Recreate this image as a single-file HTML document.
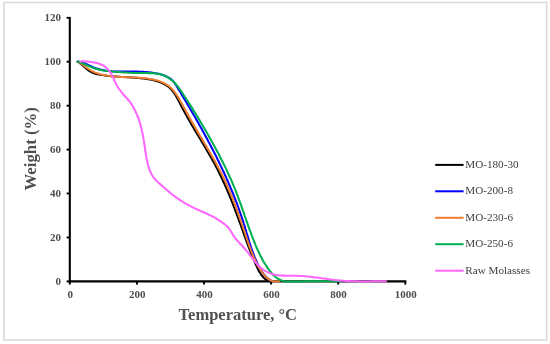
<!DOCTYPE html>
<html><head><meta charset="utf-8"><title>TGA</title>
<style>
html,body{margin:0;padding:0;background:#fff;}
body{width:550px;height:344px;overflow:hidden;}
svg{display:block;}
text{font-family:"Liberation Serif","Times New Roman",serif;}
</style></head><body>
<svg width="550" height="344" viewBox="0 0 550 344">
<rect x="0" y="0" width="550" height="344" fill="#fff"/>
<rect x="3.9" y="2.5" width="542.8" height="337.6" fill="none" stroke="#dcdcdc" stroke-width="1.7"/>
<g stroke="#000" stroke-width="2.1" fill="none">
<line x1="69.8" y1="16.900000000000002" x2="69.8" y2="282.4"/>
<line x1="68.8" y1="281.4" x2="406.3" y2="281.4"/>
</g>
<g stroke="#000" stroke-width="1.9"><line x1="69.8" y1="281.4" x2="69.8" y2="284.6"/><line x1="136.9" y1="281.4" x2="136.9" y2="284.6"/><line x1="204.0" y1="281.4" x2="204.0" y2="284.6"/><line x1="271.1" y1="281.4" x2="271.1" y2="284.6"/><line x1="338.2" y1="281.4" x2="338.2" y2="284.6"/><line x1="405.3" y1="281.4" x2="405.3" y2="284.6"/><line x1="66.6" y1="281.4" x2="69.8" y2="281.4"/><line x1="66.6" y1="237.5" x2="69.8" y2="237.5"/><line x1="66.6" y1="193.5" x2="69.8" y2="193.5"/><line x1="66.6" y1="149.6" x2="69.8" y2="149.6"/><line x1="66.6" y1="105.7" x2="69.8" y2="105.7"/><line x1="66.6" y1="61.7" x2="69.8" y2="61.7"/><line x1="66.6" y1="17.8" x2="69.8" y2="17.8"/></g>
<g fill="none" stroke-width="2.05" stroke-linejoin="round" stroke-linecap="round">
<path d="M77.6 61.6L78.8 62.4L80.0 63.3L81.2 64.3L82.3 65.3L83.5 66.3L84.6 67.3L85.8 68.2L86.9 69.2L88.1 70.1L89.3 71.0L90.6 71.7L91.9 72.4L93.3 73.0L94.7 73.5L96.1 73.9L97.6 74.3L99.1 74.6L100.6 74.9L102.1 75.1L103.6 75.3L105.1 75.5L106.6 75.7L108.1 75.9L109.6 76.0L111.1 76.2L112.5 76.3L114.0 76.4L115.5 76.5L116.9 76.6L118.4 76.7L119.9 76.8L121.3 76.9L122.8 77.0L124.3 77.0L125.8 77.1L127.2 77.2L128.7 77.3L130.2 77.4L131.7 77.5L133.1 77.6L134.6 77.7L136.1 77.8L137.6 77.9L139.1 78.1L140.7 78.2L142.2 78.4L143.7 78.6L145.3 78.8L146.8 79.0L148.3 79.3L149.9 79.5L151.4 79.8L152.9 80.1L154.4 80.5L155.9 80.9L157.4 81.3L158.8 81.8L160.2 82.3L161.6 82.9L162.9 83.5L164.2 84.1L165.5 84.9L166.7 85.6L167.9 86.4L169.0 87.3L170.1 88.3L171.1 89.3L172.0 90.4L172.9 91.5L173.8 92.6L174.7 93.8L175.5 95.1L176.2 96.4L177.0 97.7L177.7 99.0L178.4 100.4L179.1 101.7L179.8 103.1L180.5 104.4L181.2 105.8L181.9 107.2L182.6 108.5L183.4 109.9L184.1 111.2L184.8 112.6L185.5 113.9L186.3 115.2L187.0 116.6L187.7 117.9L188.5 119.2L189.2 120.5L190.0 121.8L190.7 123.1L191.5 124.4L192.2 125.7L193.0 127.0L193.8 128.3L194.5 129.6L195.3 130.9L196.1 132.2L196.8 133.4L197.6 134.7L198.4 136.0L199.1 137.3L199.9 138.6L200.7 139.8L201.4 141.1L202.2 142.4L203.0 143.7L203.7 144.9L204.5 146.2L205.2 147.5L206.0 148.8L206.7 150.1L207.5 151.4L208.2 152.6L209.0 153.9L209.7 155.2L210.5 156.5L211.2 157.8L211.9 159.1L212.6 160.4L213.4 161.7L214.1 163.0L214.8 164.3L215.5 165.7L216.2 167.0L216.9 168.3L217.6 169.6L218.2 171.0L218.9 172.3L219.6 173.7L220.2 175.0L220.9 176.4L221.5 177.7L222.2 179.1L222.8 180.4L223.4 181.8L224.1 183.2L224.7 184.6L225.3 185.9L225.9 187.3L226.5 188.7L227.1 190.1L227.7 191.5L228.3 192.8L228.9 194.2L229.5 195.6L230.0 197.0L230.6 198.4L231.2 199.8L231.7 201.2L232.3 202.6L232.8 204.0L233.4 205.4L233.9 206.8L234.5 208.2L235.0 209.6L235.5 211.0L236.1 212.4L236.6 213.8L237.1 215.2L237.6 216.6L238.1 218.0L238.6 219.4L239.1 220.8L239.6 222.2L240.2 223.6L240.7 225.0L241.2 226.4L241.7 227.8L242.2 229.2L242.7 230.7L243.2 232.1L243.7 233.5L244.2 234.9L244.7 236.3L245.2 237.7L245.7 239.1L246.2 240.5L246.7 241.9L247.2 243.3L247.8 244.7L248.3 246.1L248.8 247.5L249.4 248.9L249.9 250.3L250.5 251.7L251.0 253.1L251.6 254.5L252.2 255.9L252.7 257.3L253.3 258.7L253.9 260.1L254.5 261.5L255.1 262.9L255.7 264.3L256.4 265.7L257.0 267.1L257.7 268.5L258.3 269.8L259.0 271.2L259.8 272.5L260.6 273.8L261.4 275.0L262.3 276.1L263.2 277.2L264.3 278.2L265.4 279.1L266.6 279.8L267.9 280.5L269.3 281.0L270.5 281.3" stroke="#000000"/>
<path d="M77.6 61.6L79.1 61.8L80.6 62.0L82.0 62.4L83.4 62.9L84.8 63.4L86.2 64.0L87.6 64.6L88.9 65.3L90.3 65.9L91.6 66.5L93.0 67.1L94.4 67.7L95.8 68.2L97.2 68.6L98.6 69.1L100.0 69.5L101.4 69.8L102.9 70.1L104.3 70.4L105.8 70.7L107.3 70.9L108.7 71.0L110.2 71.2L111.7 71.3L113.2 71.4L114.7 71.5L116.2 71.6L117.7 71.6L119.2 71.6L120.8 71.6L122.3 71.6L123.8 71.6L125.3 71.6L126.8 71.6L128.3 71.6L129.8 71.6L131.4 71.6L132.9 71.6L134.4 71.6L135.9 71.6L137.4 71.6L138.9 71.7L140.4 71.7L141.9 71.8L143.4 71.8L144.9 71.9L146.4 72.0L147.9 72.2L149.4 72.3L150.9 72.5L152.4 72.7L153.8 72.9L155.3 73.2L156.8 73.4L158.3 73.7L159.8 74.1L161.3 74.5L162.7 74.9L164.1 75.4L165.5 76.0L166.8 76.6L168.1 77.3L169.3 78.0L170.5 78.8L171.6 79.8L172.7 80.8L173.7 81.9L174.6 83.0L175.4 84.2L176.3 85.5L177.1 86.8L177.8 88.1L178.6 89.4L179.4 90.7L180.2 92.0L181.0 93.3L181.7 94.6L182.5 95.9L183.3 97.2L184.1 98.5L184.8 99.7L185.6 101.0L186.4 102.3L187.1 103.6L187.9 104.9L188.6 106.2L189.4 107.5L190.1 108.8L190.9 110.1L191.7 111.4L192.4 112.7L193.2 113.9L193.9 115.2L194.7 116.5L195.4 117.8L196.1 119.1L196.9 120.4L197.6 121.8L198.4 123.1L199.1 124.4L199.8 125.7L200.6 127.0L201.3 128.3L202.0 129.6L202.7 130.9L203.5 132.2L204.2 133.5L204.9 134.9L205.6 136.2L206.3 137.5L207.0 138.8L207.7 140.1L208.4 141.5L209.1 142.8L209.8 144.1L210.5 145.4L211.2 146.8L211.9 148.1L212.6 149.4L213.3 150.8L214.0 152.1L214.7 153.5L215.3 154.8L216.0 156.1L216.7 157.5L217.3 158.8L218.0 160.2L218.7 161.5L219.3 162.9L220.0 164.2L220.6 165.6L221.2 166.9L221.9 168.3L222.5 169.6L223.2 171.0L223.8 172.3L224.4 173.7L225.0 175.1L225.7 176.4L226.3 177.8L226.9 179.2L227.5 180.5L228.1 181.9L228.7 183.3L229.3 184.7L229.9 186.0L230.4 187.4L231.0 188.8L231.6 190.2L232.2 191.6L232.7 193.0L233.3 194.4L233.8 195.7L234.4 197.1L234.9 198.5L235.5 199.9L236.0 201.3L236.6 202.7L237.1 204.1L237.6 205.5L238.1 206.9L238.6 208.4L239.1 209.8L239.6 211.2L240.1 212.6L240.6 214.0L241.1 215.4L241.6 216.8L242.1 218.3L242.5 219.7L243.0 221.1L243.5 222.5L243.9 224.0L244.4 225.4L244.8 226.8L245.2 228.3L245.7 229.7L246.1 231.2L246.5 232.6L247.0 234.0L247.4 235.5L247.8 236.9L248.2 238.4L248.7 239.8L249.1 241.2L249.6 242.7L250.0 244.1L250.5 245.5L250.9 247.0L251.4 248.4L251.9 249.8L252.4 251.2L252.9 252.6L253.4 254.0L254.0 255.4L254.5 256.8L255.1 258.2L255.7 259.6L256.3 261.0L256.9 262.4L257.5 263.7L258.2 265.1L258.9 266.4L259.6 267.8L260.3 269.1L261.1 270.4L261.9 271.7L262.8 272.9L263.6 274.1L264.6 275.2L265.6 276.3L266.6 277.3L267.7 278.3L268.9 279.2L270.1 280.0L271.5 280.8L272.5 281.3" stroke="#0000ff"/>
<path d="M77.6 61.6L78.9 62.3L80.1 63.1L81.4 63.9L82.6 64.8L83.8 65.7L85.0 66.6L86.2 67.5L87.4 68.3L88.7 69.2L89.9 69.9L91.2 70.7L92.5 71.4L93.9 72.0L95.2 72.6L96.6 73.1L98.0 73.5L99.4 74.0L100.9 74.4L102.3 74.7L103.8 75.0L105.2 75.3L106.7 75.6L108.1 75.8L109.6 76.0L111.1 76.2L112.5 76.4L114.0 76.5L115.5 76.6L117.0 76.7L118.5 76.8L120.0 76.9L121.5 77.0L123.0 77.1L124.5 77.1L126.0 77.2L127.5 77.2L129.0 77.3L130.5 77.3L132.0 77.4L133.6 77.5L135.1 77.5L136.6 77.6L138.1 77.7L139.6 77.8L141.2 77.9L142.7 78.0L144.2 78.2L145.7 78.3L147.2 78.5L148.7 78.7L150.2 79.0L151.7 79.2L153.2 79.5L154.7 79.9L156.1 80.2L157.5 80.6L159.0 81.1L160.4 81.6L161.7 82.1L163.1 82.7L164.4 83.4L165.7 84.1L166.9 84.9L168.2 85.7L169.3 86.5L170.4 87.5L171.5 88.5L172.5 89.5L173.5 90.7L174.4 91.8L175.3 93.0L176.2 94.3L177.0 95.5L177.8 96.8L178.6 98.1L179.4 99.4L180.1 100.8L180.9 102.1L181.6 103.4L182.4 104.7L183.1 106.1L183.8 107.4L184.6 108.7L185.3 110.0L186.0 111.3L186.7 112.6L187.4 113.9L188.2 115.2L188.9 116.5L189.6 117.8L190.3 119.1L191.1 120.4L191.8 121.7L192.6 123.0L193.3 124.3L194.1 125.6L194.8 126.9L195.6 128.2L196.3 129.5L197.1 130.8L197.8 132.1L198.6 133.4L199.4 134.7L200.1 136.0L200.9 137.3L201.7 138.5L202.4 139.8L203.2 141.1L204.0 142.4L204.7 143.7L205.5 145.0L206.3 146.3L207.0 147.6L207.8 148.9L208.6 150.2L209.3 151.5L210.1 152.8L210.8 154.1L211.6 155.4L212.3 156.7L213.1 158.0L213.8 159.3L214.5 160.6L215.3 161.9L216.0 163.2L216.7 164.5L217.4 165.9L218.1 167.2L218.8 168.5L219.5 169.8L220.2 171.2L220.9 172.5L221.6 173.8L222.3 175.2L222.9 176.5L223.6 177.9L224.2 179.2L224.9 180.6L225.5 181.9L226.1 183.3L226.7 184.6L227.3 186.0L227.9 187.4L228.5 188.7L229.1 190.1L229.7 191.5L230.3 192.9L230.9 194.3L231.4 195.6L232.0 197.0L232.5 198.4L233.1 199.8L233.6 201.2L234.2 202.6L234.7 204.0L235.2 205.4L235.8 206.8L236.3 208.2L236.8 209.6L237.3 211.0L237.8 212.5L238.3 213.9L238.8 215.3L239.3 216.7L239.8 218.1L240.3 219.5L240.8 220.9L241.3 222.4L241.8 223.8L242.3 225.2L242.8 226.6L243.2 228.1L243.7 229.5L244.2 230.9L244.7 232.3L245.2 233.7L245.6 235.2L246.1 236.6L246.6 238.0L247.1 239.5L247.6 240.9L248.1 242.3L248.5 243.7L249.0 245.1L249.5 246.5L250.1 248.0L250.6 249.4L251.1 250.8L251.7 252.2L252.2 253.6L252.8 254.9L253.4 256.3L254.0 257.7L254.6 259.0L255.2 260.4L255.9 261.7L256.6 263.1L257.3 264.4L258.0 265.7L258.7 267.0L259.5 268.3L260.3 269.6L261.1 270.8L262.0 272.1L262.9 273.3L263.8 274.5L264.8 275.7L265.8 276.7L266.8 277.8L267.9 278.7L269.1 279.5L270.3 280.2L271.6 280.8L273.0 281.2L274.4 281.4L276.0 281.4L277.6 281.4L279.3 281.3L279.4 281.3" stroke="#ed7d31"/>
<path d="M77.6 61.6L79.0 62.1L80.4 62.6L81.8 63.1L83.2 63.7L84.6 64.3L86.0 64.9L87.3 65.5L88.7 66.0L90.1 66.6L91.4 67.2L92.8 67.7L94.2 68.2L95.6 68.7L97.1 69.1L98.5 69.5L100.0 69.8L101.5 70.1L102.9 70.4L104.4 70.6L105.9 70.8L107.4 71.0L108.9 71.1L110.4 71.3L111.9 71.5L113.4 71.6L114.9 71.7L116.3 71.9L117.8 72.0L119.3 72.1L120.8 72.2L122.3 72.3L123.8 72.4L125.3 72.5L126.7 72.6L128.2 72.7L129.7 72.7L131.2 72.8L132.7 72.9L134.2 72.9L135.7 72.9L137.2 73.0L138.8 73.0L140.3 73.0L141.8 73.0L143.3 73.0L144.9 73.0L146.4 73.0L148.0 73.1L149.5 73.1L151.0 73.1L152.6 73.2L154.1 73.3L155.6 73.5L157.0 73.7L158.5 73.9L159.9 74.2L161.4 74.6L162.7 75.0L164.1 75.6L165.4 76.2L166.7 76.8L168.0 77.5L169.2 78.3L170.4 79.2L171.6 80.1L172.7 81.0L173.8 82.0L174.9 83.1L175.9 84.2L176.8 85.3L177.8 86.5L178.7 87.7L179.5 88.9L180.4 90.2L181.3 91.4L182.1 92.7L183.0 93.9L183.8 95.2L184.6 96.5L185.5 97.7L186.3 99.0L187.1 100.2L187.9 101.5L188.7 102.8L189.6 104.0L190.4 105.3L191.2 106.6L192.0 107.8L192.8 109.1L193.5 110.4L194.3 111.7L195.1 112.9L195.9 114.2L196.7 115.5L197.5 116.8L198.2 118.0L199.0 119.3L199.8 120.6L200.5 121.9L201.3 123.2L202.1 124.5L202.8 125.8L203.6 127.1L204.3 128.3L205.1 129.6L205.8 130.9L206.6 132.2L207.3 133.5L208.0 134.8L208.8 136.1L209.5 137.4L210.3 138.7L211.0 140.0L211.7 141.4L212.5 142.7L213.2 144.0L213.9 145.3L214.6 146.6L215.3 147.9L216.0 149.2L216.8 150.6L217.5 151.9L218.2 153.2L218.9 154.5L219.6 155.9L220.2 157.2L220.9 158.5L221.6 159.9L222.3 161.2L223.0 162.6L223.6 163.9L224.3 165.2L225.0 166.6L225.6 167.9L226.3 169.3L226.9 170.6L227.5 172.0L228.2 173.4L228.8 174.7L229.4 176.1L230.0 177.5L230.7 178.8L231.3 180.2L231.9 181.6L232.4 183.0L233.0 184.3L233.6 185.7L234.2 187.1L234.7 188.5L235.3 189.9L235.9 191.3L236.4 192.7L236.9 194.1L237.5 195.5L238.0 196.9L238.5 198.3L239.0 199.7L239.6 201.1L240.1 202.5L240.6 203.9L241.1 205.3L241.6 206.7L242.1 208.2L242.6 209.6L243.1 211.0L243.6 212.4L244.1 213.8L244.5 215.2L245.0 216.7L245.5 218.1L246.0 219.5L246.5 220.9L247.0 222.3L247.5 223.7L248.0 225.2L248.5 226.6L249.0 228.0L249.5 229.4L250.0 230.8L250.6 232.2L251.1 233.6L251.6 235.0L252.1 236.4L252.7 237.8L253.2 239.2L253.8 240.6L254.3 242.0L254.9 243.4L255.5 244.8L256.0 246.1L256.6 247.5L257.2 248.9L257.8 250.3L258.5 251.6L259.1 253.0L259.8 254.3L260.4 255.7L261.1 257.0L261.8 258.3L262.5 259.7L263.2 261.0L264.0 262.3L264.8 263.6L265.6 264.8L266.4 266.1L267.2 267.4L268.1 268.6L269.0 269.8L269.9 271.0L270.9 272.2L271.9 273.4L272.9 274.5L274.0 275.6L275.1 276.6L276.2 277.6L277.4 278.4L278.7 279.2L279.9 279.8L281.2 280.4L282.6 280.8L284.0 281.2L285.4 281.4L286.8 281.4L288.3 281.4L289.8 281.4L291.3 281.4L292.8 281.4L294.3 281.4L295.9 281.4L297.4 281.4L298.9 281.4L300.5 281.4L302.0 281.4L303.5 281.4L305.1 281.3L306.6 281.3L308.1 281.3L309.6 281.2L311.1 281.2L312.6 281.2L314.1 281.2L315.6 281.2L317.1 281.2L318.5 281.2L320.0 281.2L321.5 281.2L323.0 281.2L324.5 281.2L326.0 281.3L327.5 281.3L329.0 281.3L330.5 281.3L332.0 281.3L333.5 281.3L335.0 281.3L336.5 281.3L338.0 281.3L339.5 281.3L341.0 281.3" stroke="#00b050"/>
<path d="M80.5 61.5L82.0 61.3L83.5 61.3L85.0 61.3L86.5 61.4L87.9 61.5L89.4 61.7L90.9 62.0L92.4 62.2L93.9 62.5L95.4 62.8L96.9 63.1L98.4 63.5L99.8 64.0L101.2 64.5L102.6 65.2L103.9 65.9L105.1 66.7L106.2 67.7L107.3 68.7L108.3 69.7L109.3 70.9L110.1 72.1L111.0 73.4L111.7 74.6L112.4 76.0L113.1 77.3L113.7 78.7L114.3 80.1L114.9 81.5L115.6 82.8L116.2 84.2L116.9 85.5L117.7 86.8L118.5 88.1L119.4 89.3L120.2 90.5L121.1 91.7L122.1 92.9L123.0 94.1L124.0 95.2L125.0 96.3L126.0 97.4L127.0 98.5L128.0 99.6L129.0 100.7L129.9 101.9L130.8 103.1L131.6 104.3L132.4 105.6L133.1 106.9L133.8 108.2L134.6 109.6L135.3 110.9L135.9 112.3L136.5 113.7L137.1 115.1L137.7 116.5L138.3 117.9L138.8 119.3L139.2 120.7L139.7 122.1L140.1 123.5L140.5 125.0L140.9 126.4L141.3 127.9L141.6 129.3L141.9 130.7L142.3 132.2L142.6 133.7L142.8 135.1L143.1 136.6L143.4 138.1L143.6 139.5L143.9 141.0L144.1 142.5L144.3 144.0L144.6 145.5L144.8 147.0L145.0 148.5L145.2 150.0L145.5 151.5L145.7 153.0L145.9 154.5L146.2 156.0L146.4 157.5L146.7 159.0L147.0 160.4L147.3 161.9L147.6 163.4L148.0 164.9L148.4 166.3L148.8 167.7L149.3 169.1L149.8 170.5L150.4 171.9L151.0 173.2L151.7 174.5L152.4 175.7L153.2 177.0L154.1 178.2L155.1 179.3L156.1 180.4L157.2 181.5L158.3 182.5L159.5 183.6L160.6 184.6L161.8 185.6L162.9 186.6L164.0 187.5L165.2 188.5L166.3 189.5L167.4 190.5L168.5 191.4L169.7 192.4L170.8 193.4L172.0 194.3L173.2 195.2L174.4 196.1L175.6 197.0L176.8 197.9L178.0 198.7L179.3 199.6L180.5 200.4L181.8 201.2L183.1 202.0L184.4 202.8L185.7 203.5L187.0 204.3L188.3 205.0L189.6 205.7L190.9 206.4L192.3 207.1L193.6 207.7L195.0 208.4L196.3 209.0L197.7 209.7L199.1 210.3L200.4 210.9L201.8 211.5L203.2 212.1L204.6 212.7L205.9 213.3L207.3 213.9L208.7 214.6L210.0 215.2L211.4 215.9L212.7 216.5L214.0 217.2L215.3 218.0L216.6 218.8L217.8 219.6L219.1 220.4L220.3 221.2L221.6 222.1L222.8 222.9L224.1 223.8L225.2 224.7L226.4 225.7L227.5 226.7L228.4 227.8L229.3 229.0L230.2 230.2L231.0 231.5L231.8 232.8L232.5 234.1L233.3 235.4L234.2 236.6L235.0 237.8L236.0 239.0L236.9 240.1L237.9 241.3L238.9 242.4L239.9 243.5L241.0 244.5L242.0 245.6L243.0 246.7L244.0 247.8L245.0 249.0L246.0 250.1L247.0 251.3L247.9 252.4L248.8 253.6L249.7 254.8L250.6 256.0L251.5 257.2L252.4 258.4L253.3 259.6L254.2 260.8L255.1 262.0L256.1 263.1L257.1 264.2L258.1 265.3L259.1 266.4L260.3 267.4L261.4 268.3L262.7 269.2L263.9 270.1L265.2 270.9L266.5 271.6L267.9 272.3L269.3 272.9L270.7 273.5L272.1 273.9L273.5 274.3L275.0 274.7L276.4 274.9L277.9 275.2L279.3 275.3L280.8 275.5L282.3 275.6L283.8 275.6L285.3 275.7L286.8 275.7L288.3 275.7L289.8 275.7L291.3 275.7L292.8 275.7L294.3 275.7L295.9 275.8L297.4 275.8L298.9 275.9L300.4 275.9L301.9 276.0L303.4 276.1L304.9 276.2L306.4 276.4L307.9 276.5L309.4 276.7L310.8 276.8L312.3 277.0L313.8 277.2L315.3 277.4L316.8 277.6L318.3 277.8L319.8 278.0L321.3 278.2L322.7 278.4L324.2 278.6L325.7 278.8L327.2 279.0L328.7 279.2L330.2 279.4L331.7 279.6L333.1 279.7L334.6 279.9L336.1 280.1L337.6 280.3L339.1 280.4L340.6 280.5L342.1 280.7L343.6 280.8L345.1 280.9L346.6 281.0L348.1 281.1L349.6 281.1L351.1 281.2L352.6 281.2L354.1 281.3L355.6 281.3L357.1 281.3L358.6 281.4L360.1 281.4L361.6 281.4L363.1 281.4L364.6 281.4L366.1 281.4L367.6 281.4L369.1 281.4L370.6 281.4L372.1 281.3L373.6 281.3L375.1 281.3L376.6 281.3L378.1 281.3L379.6 281.3L381.1 281.3L382.6 281.3L384.1 281.3L385.6 281.3L386.0 281.3" stroke="#ff66ff"/>
</g>
<g font-size="11" font-weight="bold" fill="#4d4d4d"><text x="70.2" y="298.2" text-anchor="middle">0</text><text x="137.3" y="298.2" text-anchor="middle">200</text><text x="204.4" y="298.2" text-anchor="middle">400</text><text x="271.5" y="298.2" text-anchor="middle">600</text><text x="338.6" y="298.2" text-anchor="middle">800</text><text x="405.7" y="298.2" text-anchor="middle">1000</text><text x="61" y="285.0" text-anchor="end">0</text><text x="61" y="241.1" text-anchor="end">20</text><text x="61" y="197.1" text-anchor="end">40</text><text x="61" y="153.2" text-anchor="end">60</text><text x="61" y="109.3" text-anchor="end">80</text><text x="61" y="65.3" text-anchor="end">100</text><text x="61" y="21.4" text-anchor="end">120</text></g>
<g font-size="11.15" fill="#404040"><line x1="435.2" y1="164.9" x2="463.6" y2="164.9" stroke="#000000" stroke-width="2"/><text x="465.3" y="168.0">MO-180-30</text><line x1="435.2" y1="191.3" x2="463.6" y2="191.3" stroke="#0000ff" stroke-width="2"/><text x="465.3" y="194.4">MO-200-8</text><line x1="435.2" y1="217.8" x2="463.6" y2="217.8" stroke="#ed7d31" stroke-width="2"/><text x="465.3" y="220.9">MO-230-6</text><line x1="435.2" y1="244.2" x2="463.6" y2="244.2" stroke="#00b050" stroke-width="2"/><text x="465.3" y="247.3">MO-250-6</text><line x1="435.2" y1="270.7" x2="463.6" y2="270.7" stroke="#ff66ff" stroke-width="2"/><text x="465.3" y="273.8">Raw Molasses</text></g>
<text x="237.8" y="320.3" text-anchor="middle" font-size="16.5" font-weight="bold" fill="#505050">Temperature, °C</text>
<text transform="translate(35.7,148.8) rotate(-90)" text-anchor="middle" font-size="16.8" font-weight="bold" fill="#505050">Weight (%)</text>
</svg>
</body></html>
